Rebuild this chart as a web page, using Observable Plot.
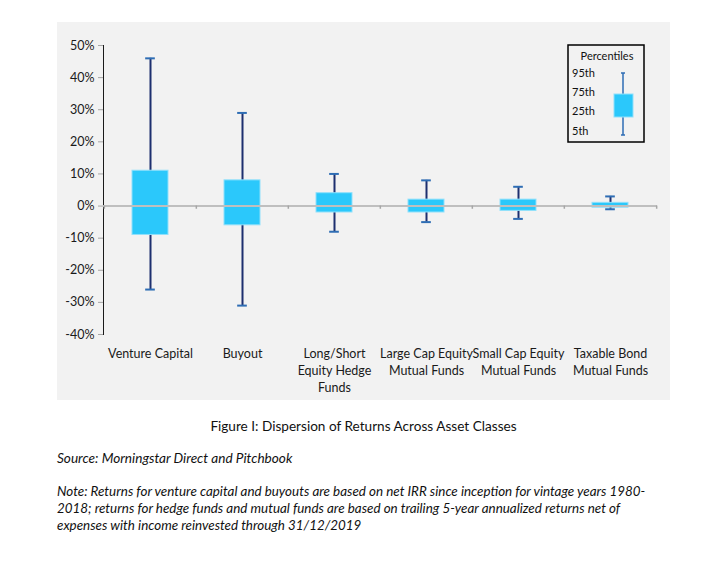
<!DOCTYPE html>
<html><head><meta charset="utf-8">
<script src="https://cdn.jsdelivr.net/npm/d3@7"></script>
<script src="https://cdn.jsdelivr.net/npm/@observablehq/plot@0.6"></script>
<style>
body{margin:0;background:#fff;font-family:Lato,"Open Sans",sans-serif;}
#page{position:relative;width:720px;height:567px;overflow:hidden;}
#panel{position:absolute;left:57px;top:22px;width:613px;height:378px;background:#f2f2f2;}
#chart{position:absolute;left:0;top:0;}
#chart svg g[aria-label*="axis"] path,#chart svg g[aria-label*="axis"] line{stroke:#a6a6a6;}
#legend{position:absolute;left:510px;top:22px;}
#title{position:absolute;left:0;width:727px;top:418px;text-align:center;font-size:13.6px;color:#111;}
#source{position:absolute;left:57px;top:450px;font-size:13.6px;font-style:italic;color:#111;}
#note{position:absolute;left:57px;top:483px;font-size:13.4px;font-style:italic;color:#111;line-height:17px;white-space:nowrap;}
</style></head><body>
<div id="page">
  <div id="panel"><div id="chart"></div><div id="legend"></div></div>
  <div id="title">Figure I: Dispersion of Returns Across Asset Classes</div>
  <div id="source">Source: Morningstar Direct and Pitchbook</div>
  <div id="note">Note: Returns for venture capital and buyouts are based on net IRR since inception for vintage years 1980-<br>2018; returns for hedge funds and mutual funds are based on trailing 5-year annualized returns net of<br>expenses with income reinvested through 31/12/2019</div>
</div>
<script>
const categories = ["Venture Capital","Buyout","Long/Short Equity Hedge Funds","Large Cap Equity Mutual Funds","Small Cap Equity Mutual Funds","Taxable Bond Mutual Funds"];
const categoryLabels = ["Venture Capital","Buyout","Long/Short\nEquity Hedge\nFunds","Large Cap Equity\nMutual Funds","Small Cap Equity\nMutual Funds","Taxable Bond\nMutual Funds"];
const p95 = [46, 29, 10, 8, 6, 3];
const p75 = [11, 8, 4, 2, 2, 1];
const p25 = [-9, -6, -2, -2, -1.5, -0.5];
const p05 = [-26, -31, -8, -5, -4, -1];
const yTicks = [-40,-30,-20,-10,0,10,20,30,40,50];
const legendLabels = ["95th","75th","25th","5th"];

const rows = categories.map((c,i)=>({cat:c, p95:p95[i], p75:p75[i], p25:p25[i], p05:p05[i]}));
const W = 613, H = 378, ML = 46, MR = 13, MT = 23, MB = 66;
const step = (W - ML - MR) / categories.length;
const labelOf = new Map(categories.map((c,i)=>[c, categoryLabels[i]]));

const chart = Plot.plot({
  width: W, height: H,
  marginLeft: ML, marginRight: MR, marginTop: MT, marginBottom: MB,
  style: {background: "transparent", fontFamily: "Lato, 'Open Sans', sans-serif", fontSize: "12.5px", color: "#1a1a1a", overflow: "visible"},
  x: {domain: categories, padding: 0, label: null},
  y: {domain: [-40, 50], ticks: yTicks, tickFormat: d => d + "%", label: null, line: true, tickSize: 5, tickPadding: 4},
  marks: [
    Plot.axisX({tickSize: 0, tickPadding: 12, lineHeight: 1.33, tickFormat: d => labelOf.get(d), label: null}),
    Plot.ruleX(rows, {x: "cat", y1: "p05", y2: "p95", stroke: "#1d2f6f", strokeWidth: 2}),
    Plot.barY(rows, {x: "cat", y1: "p25", y2: "p75", fill: "#2bc8fb", stroke: "#8fe0fb", strokeWidth: 1, insetLeft: 28, insetRight: 28}),
    Plot.ruleY([0], {stroke: "#bfbfbf", strokeWidth: 2}),
    Plot.ruleX(categories, {x: d => d, y1: 0, y2: -1, dx: -step/2, stroke: "#a6a6a6", strokeWidth: 1.5}),
    Plot.ruleX([categories[categories.length-1]], {x: d => d, y1: 0, y2: -1, dx: step/2, stroke: "#a6a6a6", strokeWidth: 1.5}),
    Plot.tickY(rows, {x: "cat", y: "p95", stroke: "#2e6db4", strokeWidth: 2, insetLeft: (step-10)/2, insetRight: (step-10)/2}),
    Plot.tickY(rows, {x: "cat", y: "p05", stroke: "#2e6db4", strokeWidth: 2, insetLeft: (step-10)/2, insetRight: (step-10)/2})
  ]
});
document.getElementById("chart").appendChild(chart);

// Legend (static key, not data)
const lg = d3.select("#legend").append("svg").attr("width", 78).attr("height", 100)
  .style("font-family", "Lato, 'Open Sans', sans-serif").style("font-size", "11px");
lg.append("rect").attr("x", 1).attr("y", 1).attr("width", 76).attr("height", 97).attr("fill", "#f2f2f2").attr("stroke", "#000").attr("stroke-width", 1.5);
lg.append("text").attr("x", 40).attr("y", 16).attr("text-anchor", "middle").attr("fill", "#111").text("Percentiles");
const ly = [33, 52, 71, 91];
legendLabels.forEach((t,i)=>lg.append("text").attr("x", 5).attr("y", ly[i]).attr("fill", "#111").text(t));
lg.append("line").attr("x1", 56).attr("x2", 56).attr("y1", 29).attr("y2", 91).attr("stroke", "#2e6db4").attr("stroke-width", 1.5);
lg.append("line").attr("x1", 54).attr("x2", 58).attr("y1", 29).attr("y2", 29).attr("stroke", "#2e6db4").attr("stroke-width", 1.5);
lg.append("line").attr("x1", 54).attr("x2", 58).attr("y1", 91).attr("y2", 91).attr("stroke", "#2e6db4").attr("stroke-width", 1.5);
lg.append("rect").attr("x", 47).attr("y", 50).attr("width", 19).attr("height", 23).attr("fill", "#2bc8fb").attr("stroke", "#8fe0fb");
</script>
</body></html>
